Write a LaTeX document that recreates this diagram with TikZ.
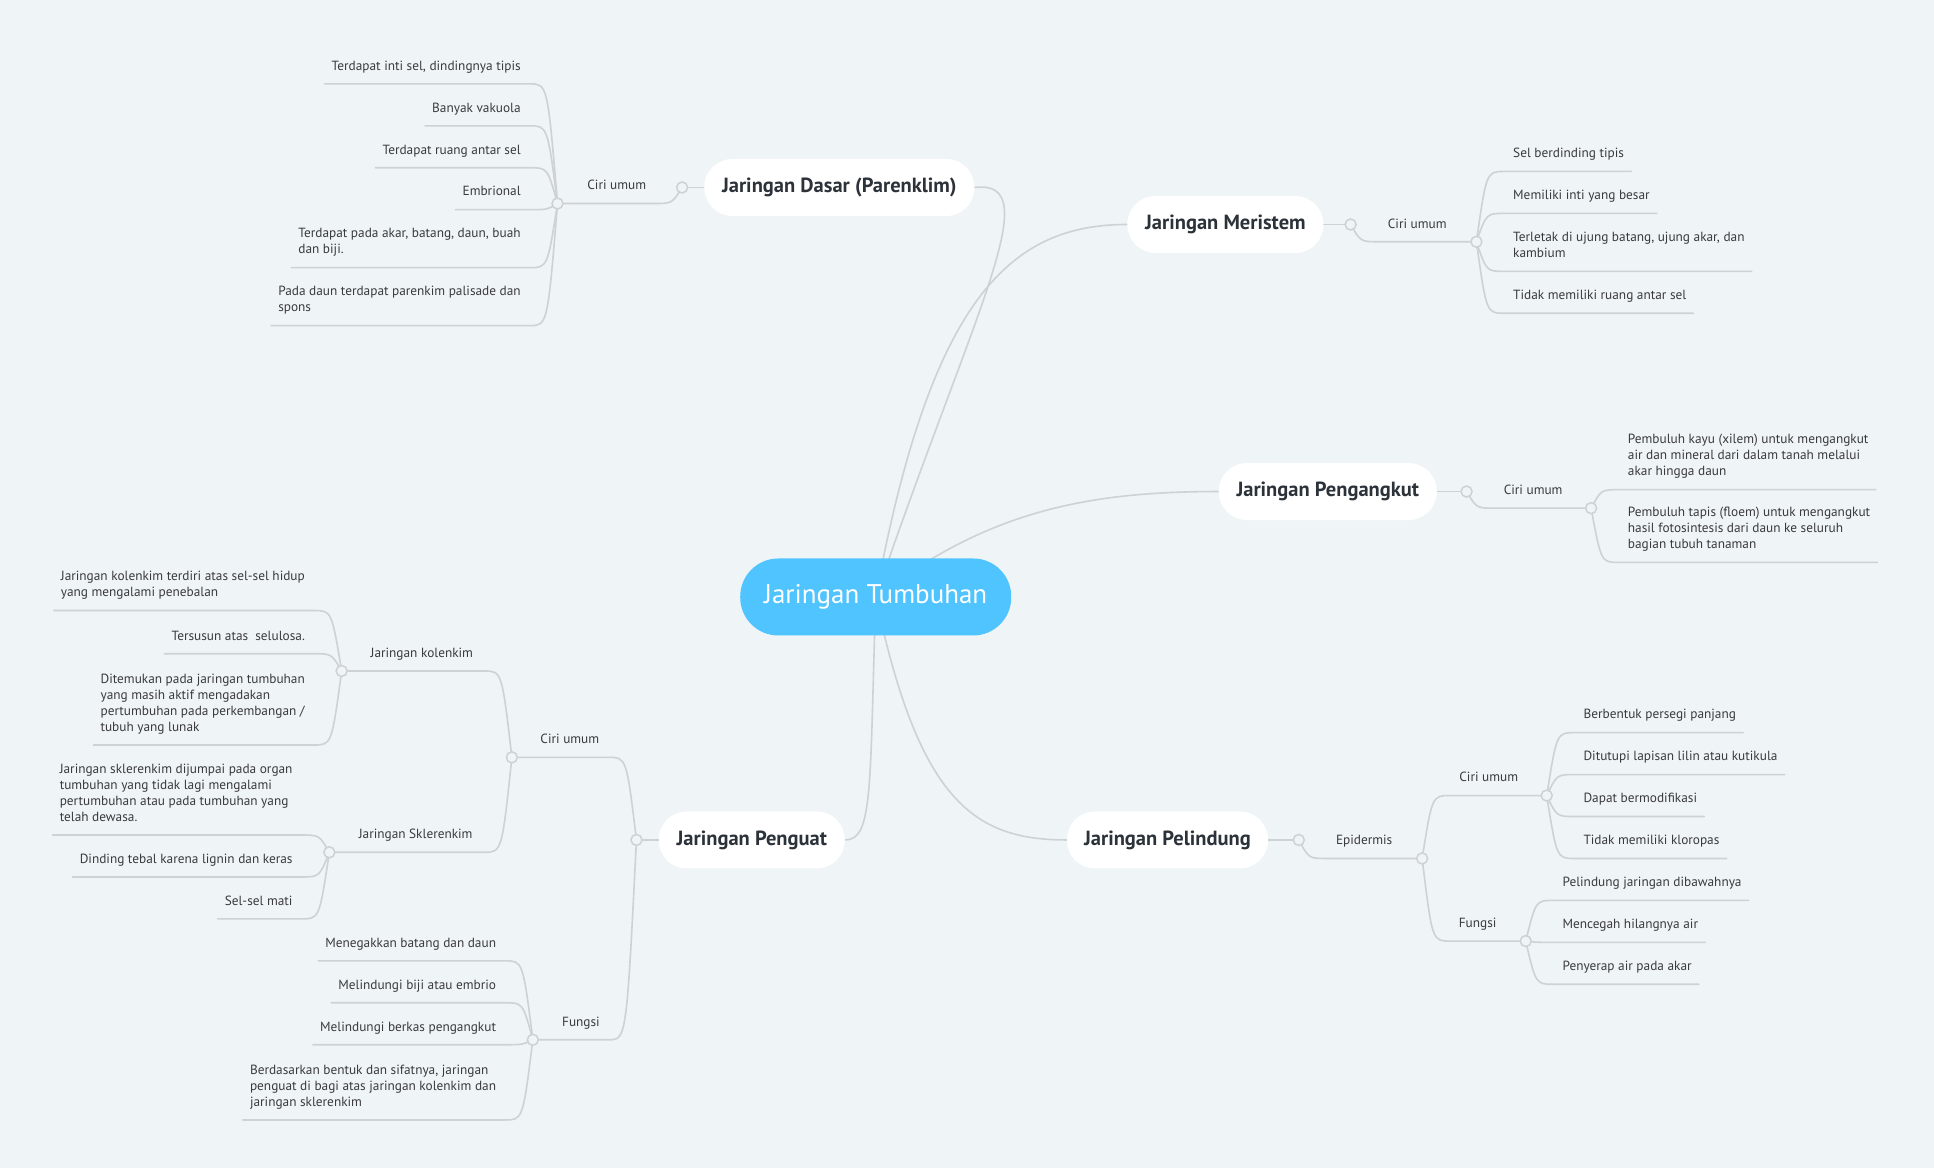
\documentclass[tikz,border=0pt]{standalone}
\usepackage{fontspec}
\setmainfont{PT Sans}
\usetikzlibrary{calc}
\definecolor{bgc}{RGB}{239,244,247}
\definecolor{linec}{RGB}{206,209,213}
\definecolor{leaftxt}{RGB}{58,58,58}
\definecolor{maintxt}{RGB}{44,50,58}
\definecolor{centerc}{RGB}{80,196,255}
\pgfdeclarelayer{bglayer}
\pgfdeclarelayer{linelayer}
\pgfsetlayers{bglayer,linelayer,main}
\newcommand\RLeaf[2]{\draw[conn] (#1.center) .. controls ($(#1.center |- #2.south)+(10pt,0)$) and ($(#1.center |- #2.south)+(10pt,0)$) .. ($(#1.center |- #2.south)+(28pt,0)$) -- (#2.south east);}
\newcommand\LLeaf[2]{\draw[conn] (#1.center) .. controls ($(#1.center |- #2.south)+(-10pt,0)$) and ($(#1.center |- #2.south)+(-10pt,0)$) .. ($(#1.center |- #2.south)+(-28pt,0)$) -- (#2.south west);}
\newcommand\RLink[2]{\draw[conn] (#1.center) .. controls ($(#1.center |- #2.center)+(10pt,0)$) and ($(#1.center |- #2.center)+(10pt,0)$) .. ($(#1.center |- #2.center)+(28pt,0)$) -- (#2.center);}
\newcommand\LLink[2]{\draw[conn] (#1.center) .. controls ($(#1.center |- #2.center)+(-10pt,0)$) and ($(#1.center |- #2.center)+(-10pt,0)$) .. ($(#1.center |- #2.center)+(-28pt,0)$) -- (#2.center);}
\tikzset{
  conn/.style={draw=linec, line width=1.6pt, line cap=round},
  hubc/.style={circle, draw=linec, line width=1.5pt, fill=bgc, minimum size=11pt, inner sep=0pt},
  leaf/.style={font=\fontsize{13.3}{16}\selectfont, text=leaftxt, inner xsep=7pt, inner ysep=0pt, text depth=13.5pt, align=left},
  rleaf/.style={leaf, anchor=south west},
  lleaf/.style={leaf, anchor=south east},
  lbl/.style={leaf, anchor=south, align=center},
  topic/.style={fill=white, rounded corners=28pt, minimum height=57pt, font=\fontsize{20.5}{24}\selectfont\bfseries, text=maintxt, inner sep=0pt},
  root/.style={fill=centerc, rounded corners=38pt, minimum height=77pt, minimum width=271pt, text=white, font=\fontsize{27}{32}\selectfont, inner sep=0pt}
}
\begin{document}
\begin{tikzpicture}[x=1.2334pt, y=-1.2334pt]
\begin{pgfonlayer}{bglayer}
\fill[bgc] (0,0) rectangle (1568,947);
\end{pgfonlayer}
\useasboundingbox (0,0) rectangle (1568,947);

% root and topics
\node[root] (root) at (710,484) {Jaringan Tumbuhan};
\node[topic, minimum width=270pt] (dasar) at (680.5,152) {Jaringan Dasar (Parenklim)};
\node[topic, minimum width=196pt] (meri) at (993.5,182) {Jaringan Meristem};
\node[topic, minimum width=218pt] (angk) at (1076.5,398.5) {Jaringan Pengangkut};
\node[topic, minimum width=201pt] (lind) at (946.5,681) {Jaringan Pelindung};
\node[topic, minimum width=186pt] (guat) at (609.5,681) {Jaringan Penguat};

% Dasar
\node[hubc] (dc) at (553,152) {};
\node[lbl] (dl) at (500,165) {Ciri umum};
\node[hubc] (dh) at (452,165) {};
\node[lleaf] (d1) at (428,68) {Terdapat inti sel, dindingnya tipis};
\node[lleaf] (d2) at (428,102) {Banyak vakuola};
\node[lleaf] (d3) at (428,136) {Terdapat ruang antar sel};
\node[lleaf] (d4) at (428,170) {Embrional};
\node[lleaf] (d5) at (428,217) {Terdapat pada akar, batang, daun, buah\\dan biji.};
\node[lleaf] (d6) at (428,264) {Pada daun terdapat parenkim palisade dan\\spons};

% Meristem
\node[hubc] (mc) at (1095,182) {};
\node[lbl] (ml) at (1149,196) {Ciri umum};
\node[hubc] (mh) at (1197,196) {};
\node[rleaf] (m1) at (1221,139) {Sel berdinding tipis};
\node[rleaf] (m2) at (1221,173) {Memiliki inti yang besar};
\node[rleaf] (m3) at (1221,220) {Terletak di ujung batang, ujung akar, dan\\kambium};
\node[rleaf] (m4) at (1221,254) {Tidak memiliki ruang antar sel};

% Pengangkut
\node[hubc] (ac) at (1189,398.5) {};
\node[lbl] (al) at (1243,412) {Ciri umum};
\node[hubc] (ah) at (1290,412) {};
\node[rleaf] (a1) at (1314,397) {Pembuluh kayu (xilem) untuk mengangkut\\air dan mineral dari dalam tanah melalui\\akar hingga daun};
\node[rleaf] (a2) at (1314,456) {Pembuluh tapis (floem) untuk mengangkut\\hasil fotosintesis dari daun ke seluruh\\bagian tubuh tanaman};

% Pelindung
\node[hubc] (lc) at (1053,681) {};
\node[lbl] (ll) at (1106,696) {Epidermis};
\node[hubc] (lh) at (1153,696) {};
\node[lbl] (lcl) at (1207,645) {Ciri umum};
\node[hubc] (lch) at (1254,645) {};
\node[rleaf] (l1) at (1278,594) {Berbentuk persegi panjang};
\node[rleaf] (l2) at (1278,628) {Ditutupi lapisan lilin atau kutikula};
\node[rleaf] (l3) at (1278,662) {Dapat bermodifikasi};
\node[rleaf] (l4) at (1278,696) {Tidak memiliki kloropas};
\node[lbl] (lfl) at (1198,763) {Fungsi};
\node[hubc] (lfh) at (1237,763) {};
\node[rleaf] (f1) at (1261,730) {Pelindung jaringan dibawahnya};
\node[rleaf] (f2) at (1261,764) {Mencegah hilangnya air};
\node[rleaf] (f3) at (1261,798) {Penyerap air pada akar};

% Penguat
\node[hubc] (gh) at (516,681) {};
\node[lbl] (gcl) at (462,614) {Ciri umum};
\node[hubc] (gch) at (415,614) {};
\node[lbl] (gfl) at (471,843) {Fungsi};
\node[hubc] (gfh) at (432,843) {};
\node[lbl] (gkl) at (342,544) {Jaringan kolenkim};
\node[hubc] (gkh) at (277,544) {};
\node[lbl] (gsl) at (337,691) {Jaringan Sklerenkim};
\node[hubc] (gsh) at (267,691) {};
\node[lleaf] (k1) at (253,495) {Jaringan kolenkim terdiri atas sel-sel hidup\\yang mengalami penebalan};
\node[lleaf] (k2) at (253,530) {Tersusun atas~ selulosa.};
\node[lleaf] (k3) at (253,604) {Ditemukan pada jaringan tumbuhan\\yang masih aktif mengadakan\\pertumbuhan pada perkembangan /\\tubuh yang lunak};
\node[lleaf] (s1) at (243,677) {Jaringan sklerenkim dijumpai pada organ\\tumbuhan yang tidak lagi mengalami\\pertumbuhan atau pada tumbuhan yang\\telah dewasa.};
\node[lleaf] (s2) at (243,711) {Dinding tebal karena lignin dan keras};
\node[lleaf] (s3) at (243,745) {Sel-sel mati};
\node[lleaf] (g1) at (408,779) {Menegakkan batang dan daun};
\node[lleaf] (g2) at (408,813) {Melindungi biji atau embrio};
\node[lleaf] (g3) at (408,847) {Melindungi berkas pengangkut};
\node[lleaf] (g4) at (408,908) {Berdasarkan bentuk dan sifatnya, jaringan\\penguat di bagi atas jaringan kolenkim dan\\jaringan sklerenkim};

\begin{pgfonlayer}{linelayer}
% root to topics
\draw[conn] (root.center) .. controls (790,250) and (850,145) .. (dasar.east);
\draw[conn] (root.center) .. controls (755,240) and (820,182) .. (meri.west);
\draw[conn] (root.center) .. controls (800,415) and (880,398.5) .. (angk.west);
\draw[conn] (root.center) .. controls (745,650) and (790,681) .. (lind.west);
\draw[conn] (root.center) .. controls (705,640) and (708,681) .. (guat.east);
% topic to circle
\draw[conn] (dasar.west) -- (dc);
\draw[conn] (meri.east) -- (mc);
\draw[conn] (angk.east) -- (ac);
\draw[conn] (lind.east) -- (lc);
\draw[conn] (guat.west) -- (gh);
% links
\LLink{dc}{dh}
\RLink{mc}{mh}
\RLink{ac}{ah}
\RLink{lc}{lh}
\RLink{lh}{lch}
\RLink{lh}{lfh}
\LLink{gh}{gch}
\LLink{gh}{gfh}
\LLink{gch}{gkh}
\LLink{gch}{gsh}
% leaves
\LLeaf{dh}{d1}\LLeaf{dh}{d2}\LLeaf{dh}{d3}\LLeaf{dh}{d4}\LLeaf{dh}{d5}\LLeaf{dh}{d6}
\RLeaf{mh}{m1}\RLeaf{mh}{m2}\RLeaf{mh}{m3}\RLeaf{mh}{m4}
\RLeaf{ah}{a1}\RLeaf{ah}{a2}
\RLeaf{lch}{l1}\RLeaf{lch}{l2}\RLeaf{lch}{l3}\RLeaf{lch}{l4}
\RLeaf{lfh}{f1}\RLeaf{lfh}{f2}\RLeaf{lfh}{f3}
\LLeaf{gkh}{k1}\LLeaf{gkh}{k2}\LLeaf{gkh}{k3}
\LLeaf{gsh}{s1}\LLeaf{gsh}{s2}\LLeaf{gsh}{s3}
\LLeaf{gfh}{g1}\LLeaf{gfh}{g2}\LLeaf{gfh}{g3}\LLeaf{gfh}{g4}
\end{pgfonlayer}
\end{tikzpicture}
\end{document}
